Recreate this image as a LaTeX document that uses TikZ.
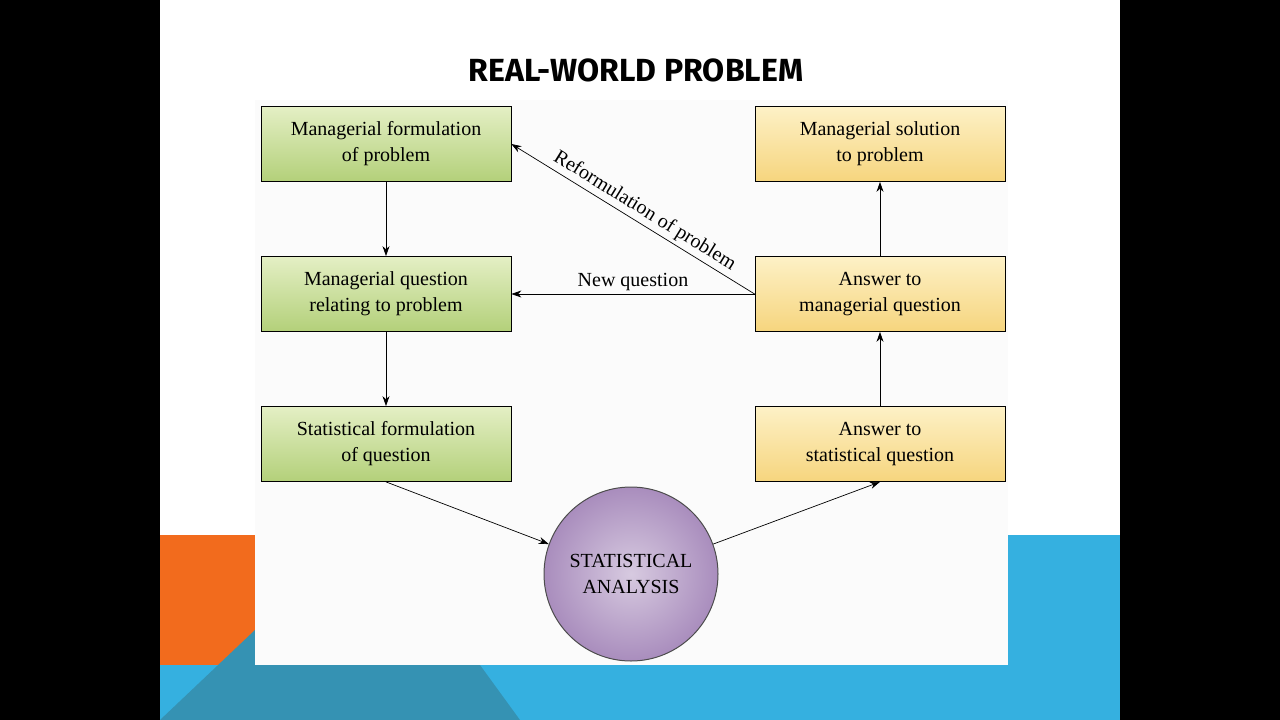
\documentclass[tikz,border=0pt]{standalone}
\usepackage{fontspec}
\setmainfont{Liberation Serif}
\newfontfamily\titlefont{Fira Sans}
\usetikzlibrary{arrows.meta,shadings}
\definecolor{gA}{HTML}{E4EFC4}\definecolor{gB}{HTML}{B3D07A}
\definecolor{yA}{HTML}{FDF1C6}\definecolor{yB}{HTML}{F6D57E}
\definecolor{pA}{HTML}{D7CAE0}\definecolor{pB}{HTML}{A98DBD}
\definecolor{orng}{HTML}{F26B1D}\definecolor{blu}{HTML}{35B0E0}\definecolor{tl}{HTML}{3592B3}
\tikzset{
 box/.style={draw=black,line width=0.8pt,minimum width=250pt,minimum height=75pt,align=center,font=\fontsize{20}{26}\selectfont},
 gbox/.style={box,top color=gA,bottom color=gB},
 ybox/.style={box,top color=yA,bottom color=yB},
 arr/.style={-{Stealth[length=10pt,width=7pt]},line width=0.7pt},
}
\begin{document}
\begin{tikzpicture}[x=1pt,y=-1pt]
\useasboundingbox (0,0) rectangle (1280,720);
\fill[black] (0,0) rectangle (1280,720);
\fill[white] (160,0) rectangle (1120,720);
\fill[orng] (160,535) rectangle (255,720);
\fill[blu] (1008,535) rectangle (1120,720);
\fill[blu] (160,665) rectangle (1120,720);
\fill[tl] (160,720) -- (255,630) -- (480,665) -- (520,720) -- cycle;
\fill[white!97!gray] (255,100) rectangle (1008,665);
\node[font=\titlefont\bfseries\fontsize{32}{36}\selectfont] (t) at (636,70) {REAL-WORLD PROBLEM};
\node[gbox] (g1) at (386,144) {Managerial formulation\\of problem};
\node[gbox] (g2) at (386,294) {Managerial question\\relating to problem};
\node[gbox] (g3) at (386,444) {Statistical formulation\\of question};
\node[ybox] (y1) at (880,144) {Managerial solution\\to problem};
\node[ybox] (y2) at (880,294) {Answer to\\managerial question};
\node[ybox] (y3) at (880,444) {Answer to\\statistical question};
\node[circle,draw=black!70,line width=1pt,minimum size=174pt,inner sep=0pt,inner color=pA,outer color=pB,align=center,font=\fontsize{20}{26}\selectfont] (c) at (631,574) {STATISTICAL\\ANALYSIS};
\draw[arr] (g1) -- (g2);
\draw[arr] (g2) -- (g3);
\draw[arr] (g3.south) -- (c.160);
\draw[arr] (c.20) -- (y3.south);
\draw[arr] (y3) -- (y2);
\draw[arr] (y2) -- (y1);
\draw[arr] (y2.west) -- node[above,font=\fontsize{20}{26}\selectfont]{New question} (g2.east);
\draw[arr] (y2.west) -- node[above,sloped,pos=0.48,font=\fontsize{20}{26}\selectfont]{Reformulation of problem} (g1.east);
\end{tikzpicture}
\end{document}
